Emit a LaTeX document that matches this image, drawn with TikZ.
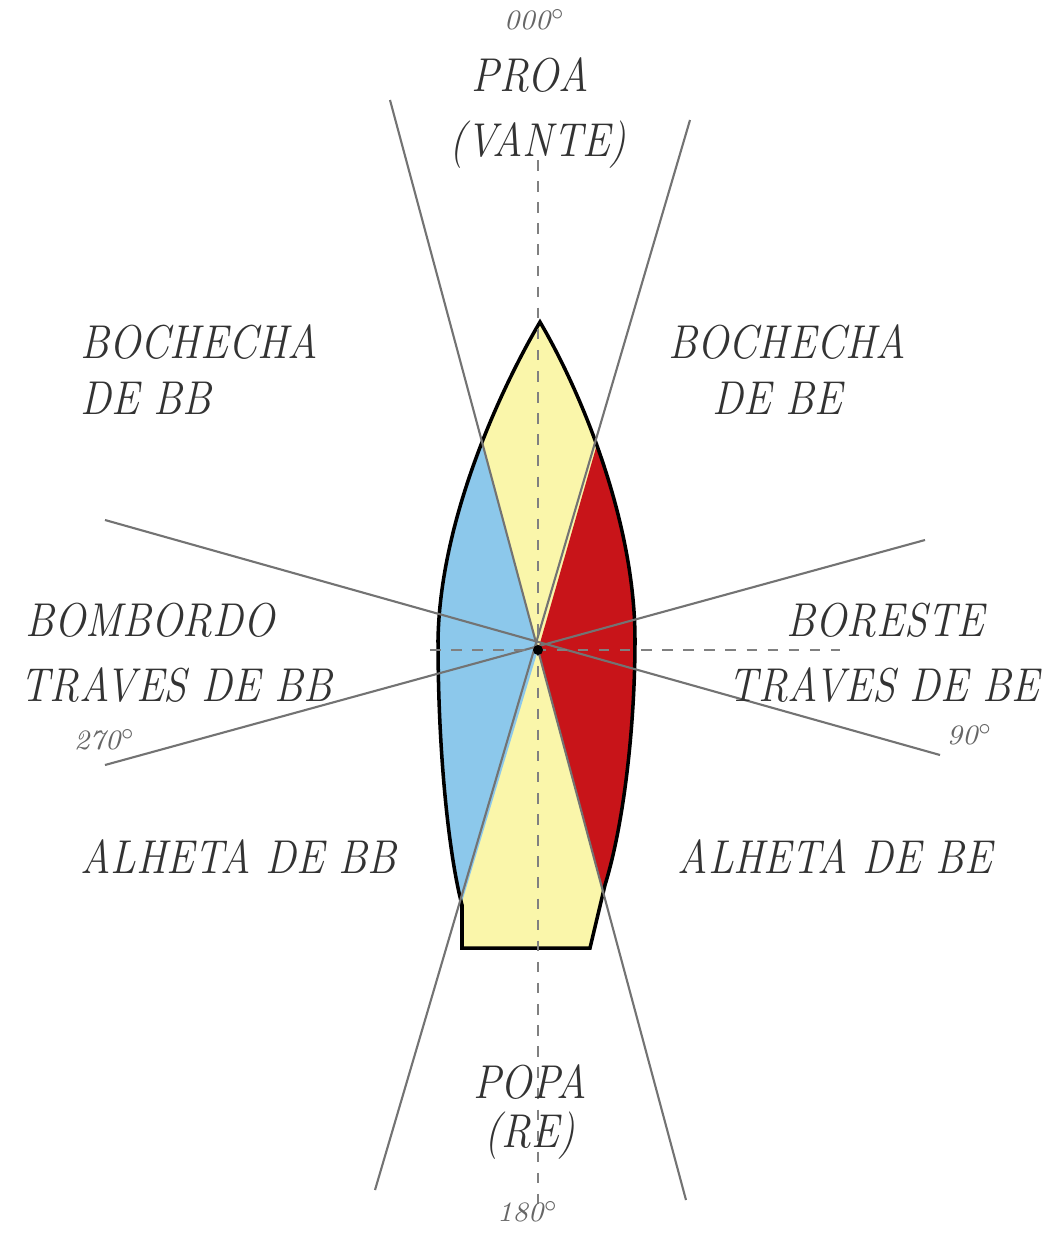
\documentclass[tikz,border=0pt]{standalone}
\begin{document}
\begin{tikzpicture}[x=0.01cm,y=-0.01cm,
  lbl/.style={font=\fontsize{13.5}{16}\selectfont\itshape,text=black!80,inner sep=0pt,xscale=0.88},
  deg/.style={font=\fontsize{8}{10}\selectfont\itshape,text=black!60,inner sep=0pt},
  ray/.style={draw=black!55,line width=0.6pt},
  dline/.style={draw=black!50,dashed,line width=0.6pt}]
\useasboundingbox (0,0) rectangle (1044,1242);
\definecolor{hy}{RGB}{250,246,170}
\definecolor{hb}{RGB}{140,200,235}
\definecolor{hr}{RGB}{200,20,25}
\def\hull{(540,322) .. controls (500,390) and (440,520) .. (438,640) .. controls (438,760) and (450,860) .. (462,905) -- (462,948) -- (590,948) -- (605,885) .. controls (625,820) and (635,720) .. (635,640) .. controls (635,520) and (580,390) .. cycle}
\fill[hy] \hull;
\begin{scope}
\clip \hull;
\fill[hb] (538,650) -- (390,100) -- (0,100) -- (0,1200) -- (375,1190) -- cycle;
\fill[hr] (538,650) -- (690,120) -- (1044,120) -- (1044,1200) -- (686,1200) -- cycle;
\end{scope}
\draw[line width=1pt] \hull;
\coordinate (c) at (538,650);
\draw[ray] (390,100) -- (686,1200);
\draw[ray] (690,120) -- (375,1190);
\draw[ray] (105,520) -- (940,755);
\draw[ray] (105,765) -- (925,540);
\draw[dline] (430,650) -- (840,650);
\draw[dline] (538,160) -- (538,1210);
\fill (c) circle (5);
\node[deg] (d0) at (535,20) {000$^\circ$};
\node[lbl] (proa) at (530,75) {PROA};
\node[lbl] (vante) at (538,145) {(VANTE)};
\node[lbl,anchor=west] (bb1) at (80,342) {BOCHECHA};
\node[lbl,anchor=west] (bb2) at (80,398) {DE BB};
\node[lbl,anchor=west] (be1) at (668,342) {BOCHECHA};
\node[lbl,anchor=west] (be2) at (712,398) {DE BE};
\node[lbl,anchor=west] (bom) at (25,620) {BOMBORDO};
\node[lbl,anchor=west] (tbb) at (20,685) {TRAVES DE BB};
\node[deg] (d270) at (105,740) {270$^\circ$};
\node[lbl,anchor=east] (bor) at (985,620) {BORESTE};
\node[lbl,anchor=east] (tbe) at (1040,685) {TRAVES DE BE};
\node[deg] (d90) at (970,735) {90$^\circ$};
\node[lbl] (abb) at (238,857) {ALHETA DE BB};
\node[lbl] (abe) at (835,857) {ALHETA DE BE};
\node[lbl] (popa) at (530,1082) {POPA};
\node[lbl] (re) at (530,1136) {(RE)};
\node[deg] (d180) at (528,1212) {180$^\circ$};
\end{tikzpicture}
\end{document}
